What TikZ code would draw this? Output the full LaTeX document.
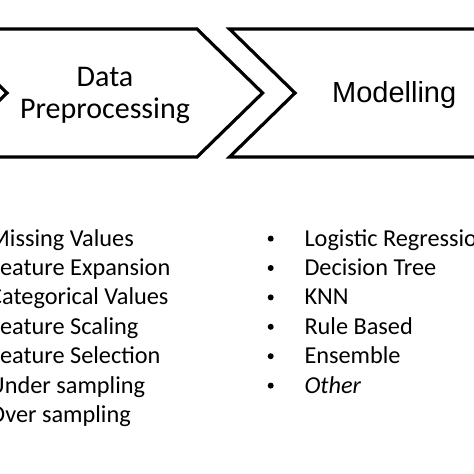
\documentclass[tikz,border=0pt]{standalone}
\usepackage{fontspec}
\setmainfont{Carlito}
\newfontfamily\arialfont{Liberation Sans}
\begin{document}
\begin{tikzpicture}[x=1pt,y=-1pt,
  chev/.style={draw=black,line width=3.2pt,line join=miter},
  head/.style={anchor=base,inner sep=0pt,font=\fontsize{30}{33}\selectfont},
  item/.style={anchor=base west,inner sep=0pt,font=\fontsize{24.3}{29}\selectfont},
  dot/.style={circle,fill=black,inner sep=0pt,minimum size=6pt}]
\useasboundingbox (0,0) rectangle (474,474);
\clip (0,0) rectangle (474,474);
\fill[white] (0,0) rectangle (474,474);
% chevrons
\draw[chev] (-58.6,29) -- (197,29) -- (262.6,93) -- (197,157) -- (-58.6,157) -- (7,93) -- cycle;
\draw[chev] (490,29) -- (229.5,29) -- (295,93) -- (229.5,157) -- (490,157);
% headings
\node[head] (data) at (105,86) {Data};
\node[head] (prep) at (105,118.5) {Preprocessing};
\node[anchor=base,inner sep=0pt,font=\arialfont\fontsize{29}{33}\selectfont] (model) at (394.2,102.7) {Modelling};
% left list
\node[item] (l1) at (-11,246) {Missing Values};
\node[item] (l2) at (-11,275.4) {Feature Expansion};
\node[item] (l3) at (-11,304.8) {Categorical Values};
\node[item] (l4) at (-11,334.2) {Feature Scaling};
\node[item] (l5) at (-11,363.6) {Feature Selection};
\node[item] (l6) at (-11,393) {Under sampling};
\node[item] (l7) at (-11,422.4) {Over sampling};
% right list
\node[item] (r1) at (304.3,246) {Logistic Regression};
\node[item] (r2) at (304.3,275.4) {Decision Tree};
\node[item] (r3) at (304.3,304.8) {KNN};
\node[item] (r4) at (304.3,334.2) {Rule Based};
\node[item] (r5) at (304.3,363.6) {Ensemble};
\node[item] (r6) at (304.3,393) {\textit{Other}};
\foreach \yy/\nm in {246/b1,275.4/b2,304.8/b3,334.2/b4,363.6/b5,393/b6}
  \node[dot] (\nm) at (270.7,\yy-7.4) {};
\end{tikzpicture}
\end{document}
